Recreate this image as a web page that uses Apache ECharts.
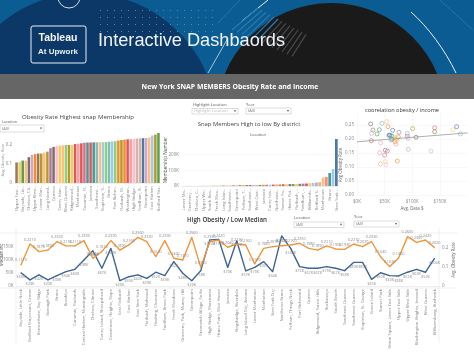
<!DOCTYPE html>
<html>
<head>
<meta charset="utf-8">
<title>Interactive Dashbaords</title>
<script src="https://cdn.jsdelivr.net/npm/echarts@6/dist/echarts.min.js"></script>
<style>
html, body { margin: 0; padding: 0; background: #fff; }
#chart { width: 474px; height: 355px; filter: blur(0.35px); }
</style>
</head>
<body>
<div id="chart"></div>
<script>
// line chart order (alphabetical)
var locations = ['Bayside, Little Neck', 'Bedford Stuyvesant, Crown', 'Bensonhurst, Bay Ridge', 'Borough Park', 'Bronx', 'Brooklyn', 'Canarsie, Flatlands', 'Central Harlem, Morningside', 'Chelsea, Clinton', 'Coney Island, Sheepshead', 'Downtown, Heights, Slope', 'East Flatbush', 'East Harlem', 'East New York', 'Flatbush, Midwood', 'Flushing, Clearview', 'Fordham, Bronx Park', 'Fresh Meadows', 'Gramercy Park, Murray Hill', 'Greenpoint', 'Greenwich Village, SoHo', 'High Bridge, Morrisania', 'Hunts Point, Mott Haven', 'Jamaica', 'Kingsbridge, Riverdale', 'Long Island City, Astoria', 'Lower Manhattan', 'Manhattan', 'New York City', 'Northeast Bronx', 'Pelham, Throgs Neck', 'Port Richmond', 'Queens', 'Ridgewood, Forest Hills', 'Rockaways', 'South Beach', 'Southeast Queens', 'Southwest Queens', 'Stapleton, St. George', 'Staten Island', 'Sunset Park', 'Union Square, Lower East Side', 'Upper East Side', 'Upper West Side', 'Washington Heights, Inwood', 'West Queens', 'Williamsburg, Bushwick'];
var medianIncome = [50, 23, 42, 23, 39, 54, 63, 98, 133, 67, 142, 20, 35, 42, 29, 52, 39, 92, 48, 20, 58, 174, 176, 70, 171, 57, 70, 92, 54, 189, 142, 73, 67, 67, 73, 67, 58, 89, 89, 25, 50, 39, 38, 52, 63, 52, 104];
var obesityRate = [.111, .221, .181, .189, .233, .211, .211, .239, .146, .181, .239, .189, .216, .256, .233, .154, .239, .146, .137, .256, .098, .233, .242, .204, .221, .216, .116, .198, .207, .212, .216, .225, .198, .189, .211, .195, .193, .221, .207, .233, .154, .102, .146, .26, .23, .242, .202];

// left bars
var obesityLabels = ['Upper East Side', 'Greenwich Village, SoHo', 'Bayside, Little Neck', 'Flushing, Clearview', 'Chelsea, Clinton', 'Union Square, Lower East Side', 'Upper West Side', 'Fresh Meadows', 'Lower Manhattan', 'Gramercy Park, Murray Hill', 'Long Island City, Astoria', 'Sunset Park', 'Queens', 'Bensonhurst, Bay Ridge', 'Coney Island, Sheepshead', 'Borough Park', 'West Queens', 'Downtown, Heights, Slope', 'Ridgewood, Forest Hills', 'Kingsbridge, Riverdale', 'Manhattan', 'Brooklyn', 'Canarsie, Flatlands', 'New York City', 'Jamaica', 'Rockaways', 'Southeast Queens', 'Southwest Queens', 'Stapleton, St. George', 'Staten Island', 'Bronx', 'Pelham, Throgs Neck', 'Port Richmond', 'South Beach', 'Flatbush, Midwood', 'Northeast Bronx', 'Washington Heights, Inwood', 'Central Harlem, Morningside', 'High Bridge, Morrisania', 'Williamsburg, Bushwick', 'Fordham, Bronx Park', 'Hunts Point, Mott Haven', 'Greenpoint', 'East Flatbush', 'East Harlem', 'East New York', 'Bedford Stuyvesant, Crown'];
var obesityValues = [.108, .11, .118, .118, .136, .148, .152, .155, .155, .16, .165, .183, .19, .195, .197, .198, .2, .2, .2, .205, .207, .209, .212, .213, .213, .214, .214, .214, .215, .216, .217, .219, .22, .224, .226, .228, .23, .231, .232, .234, .235, .236, .237, .24, .25, .255, .263];
var obesityColors = ['#9d7660', '#f1ce63', '#59a14f', '#ffbe7d', '#79706e', '#d4a6c8', '#f28e2b', '#9d7660', '#b6992d', '#ffbe7d', '#b6992d', '#b07aa1', '#79706e', '#fabfd2', '#f1ce63', '#ffbe7d', '#8cd17d', '#b6992d', '#f1ce63', '#e15759', '#ff9d9a', '#e15759', '#d37295', '#499894', '#e15759', '#499894', '#86bcb6', '#ffbe7d', '#a0cbe8', '#8cd17d', '#86bcb6', '#a0cbe8', '#8cd17d', '#f28e2b', '#b6992d', '#f28e2b', '#e15759', '#ff9d9a', '#fabfd2', '#d7b5a6', '#d7b5a6', '#4e79a7', '#d4a6c8', '#ffbe7d', '#a0cbe8', '#b6992d', '#59a14f'];

// middle bars
var memberLabels = ['Lower Manhattan', 'Upper East Side', 'Gramercy Park, Murray Hill', 'Greenwich Village, SoHo', 'Chelsea, Clinton', 'Union Square, Lower East Side', 'Upper West Side', 'Port Richmond', 'South Beach', 'Stapleton, St. George', 'Fresh Meadows', 'Bayside, Little Neck', 'Long Island City, Astoria', 'Rockaways', 'Southwest Queens', 'Ridgewood, Forest Hills', 'Greenpoint', 'Kingsbridge, Riverdale', 'Pelham, Throgs Neck', 'Canarsie, Flatlands', 'Southeast Queens', 'Downtown, Heights, Slope', 'West Queens', 'Flushing, Clearview', 'Jamaica', 'Central Harlem, Morningside', 'Coney Island, Sheepshead', 'East Harlem', 'Northeast Bronx', 'Bensonhurst, Bay Ridge', 'Sunset Park', 'Washington Heights, Inwood', 'Hunts Point, Mott Haven', 'East Flatbush', 'Flatbush, Midwood', 'Borough Park', 'Fordham, Bronx Park', 'East New York', 'Williamsburg, Bushwick', 'High Bridge, Morrisania', 'Bedford Stuyvesant, Crown', 'Staten Island', 'Manhattan', 'Queens', 'Bronx', 'Brooklyn', 'New York City'];
var memberValues = [.3, .4, .5, .6, .8, 1, 1.2, 1.5, 2, 2.5, 3, 3, 3.5, 4, 4, 4.5, 5, 5, 5.5, 6, 6, 6.5, 7, 7, 8, 8, 9, 9, 10, 10, 11, 11, 12, 12, 13, 14, 15, 16, 18, 20, 22, 24, 55, 58, 83, 108, 300];
var memberColors = ['#d7b5a6', '#bab0ac', '#fabfd2', '#f1ce63', '#a0cbe8', '#d4a6c8', '#8cd17d', '#ffbe7d', '#f1ce63', '#86bcb6', '#ffbe7d', '#d7b5a6', '#b6992d', '#fabfd2', '#ffbe7d', '#d37295', '#f1ce63', '#9d7660', '#8cd17d', '#e15759', '#79706e', '#d4a6c8', '#ff9d9a', '#59a14f', '#f28e2b', '#d37295', '#a0cbe8', '#e15759', '#ff9d9a', '#b6992d', '#e15759', '#ffbe7d', '#79706e', '#59a14f', '#f1ce63', '#9d7660', '#b07aa1', '#e15759', '#ffbe7d', '#a0cbe8', '#bab0ac', '#d7b5a6', '#ffbe7d', '#f4908a', '#499894', '#a0cbe8', '#4e79a7'];

// scatter, x in $K
var incomeX = [24.7, 45.2, 53.6, 28.9, 26.5, 40.4, 36.2, 56.1, 64.5, 75.9, 91, 100.7, 140.4, 140.4, 173.6, 180.2, 186.9, 59.7, 56.7, 62.7, 68.7, 60.9, 74.7, 71.7, 68.7, 70.5, 25.9, 42.8, 92.2, 106.7, 92.8, 133.8, 41, 51.2, 54.9, 50, 51.2, 42.2, 52.4, 72.9, 64.5, 58.5, 66.9, 69.9, 91, 62.7, 71.7];
var obesityY = [.254, .256, .262, .232, .22, .233, .218, .244, .231, .224, .22, .237, .24, .226, .233, .244, .218, .212, .212, .211, .205, .196, .208, .196, .19, .182, .194, .186, .202, .206, .163, .157, .151, .16, .157, .142, .119, .111, .108, .121, .2, .214, .202, .2, .21, .199, .2];
var scatterColors = ['#79706e', '#86bcb6', '#ffbe7d', '#9d7660', '#d4a6c8', '#499894', '#59a14f', '#f28e2b', '#4e79a7', '#b07aa1', '#86bcb6', '#b6992d', '#d37295', '#9d7660', '#f1ce63', '#4e79a7', '#86bcb6', '#4e79a7', '#a0cbe8', '#499894', '#f1ce63', '#a0cbe8', '#b6992d', '#ffbe7d', '#f28e2b', '#ff9d9a', '#e15759', '#d7b5a6', '#bab0ac', '#79706e', '#bab0ac', '#d7b5a6', '#d4a6c8', '#9d7660', '#b07aa1', '#d37295', '#f1ce63', '#d7b5a6', '#fabfd2', '#f28e2b', '#a0cbe8', '#4e79a7', '#f1ce63', '#f1ce63', '#d37295', '#499894', '#ffbe7d'];
var trendX = [0, 200];
var trendY = [.19, .222];

var grey = '#888';
var font = '"Open Sans", "Noto Sans", sans-serif';

function catAxis(grid, labels, skip, maxLen) {
    return {
        type: 'category', gridIndex: grid, data: labels, boundaryGap: true,
        axisTick: { show: false },
        axisLine: { lineStyle: { color: '#ddd', width: 0.5 } },
        axisLabel: {
            rotate: 90, interval: skip, fontSize: 4.2, color: '#888', margin: 3, fontFamily: font,
            width: maxLen, overflow: maxLen ? 'truncate' : 'none', ellipsis: '..'
        }
    };
}
function valAxis(grid, o) {
    var axis = {
        type: 'value', gridIndex: grid, min: o.min || 0, max: o.max, interval: o.interval,
        position: o.position || 'left',
        splitLine: { show: !!o.split, showMaxLine: false, lineStyle: { color: '#f1f1f1', width: 0.5 } },
        axisLine: { show: false }, axisTick: { show: false },
        axisLabel: { fontSize: 4.5, color: grey, margin: 3, fontFamily: font, showMaxLabel: false, formatter: o.fmt }
    };
    return axis;
}
function tagText(x, y, text, o) {
    o = o || {};
    return {
        type: 'text', x: x, y: y, rotation: o.rot || 0, silent: true,
        style: {
            text: text, fill: o.color || '#555', fontSize: o.size || 4.5, fontWeight: o.weight || 'normal',
            fontFamily: o.family || font, align: o.align || 'left', verticalAlign: 'middle'
        }
    };
}
function filterBox(x, y, w, h, text, hint) {
    return [
        { type: 'rect', shape: { x: x, y: y, width: w, height: h }, style: { fill: '#fff', stroke: '#bbb', lineWidth: 0.5 } },
        tagText(x + 2, y + h / 2, text, { size: 4, color: hint ? '#bbb' : '#777' }),
        { type: 'polygon', shape: { points: [[x + w - 4, y + h / 2 - 1], [x + w - 2, y + h / 2 - 1], [x + w - 3, y + h / 2 + 1]] }, style: { fill: '#555' } }
    ];
}

// header picture, only decoration
function bannerParts() {
    var parts = [
        { type: 'rect', shape: { x: 0, y: 0, width: 474, height: 74 }, style: { fill: '#0b5c92' } },
        { type: 'circle', shape: { cx: 85, cy: 125, r: 132 }, style: { fill: '#0c3868' } },
        { type: 'circle', shape: { cx: 331, cy: 118, r: 115 }, style: { fill: '#1b1a1a' } },
        { type: 'rect', shape: { x: 0, y: 99, width: 474, height: 256 }, style: { fill: '#fff' } },
        { type: 'arc', shape: { cx: 69, cy: -3, r: 11, startAngle: 0, endAngle: Math.PI }, style: { fill: 'none', stroke: '#cfe0ee', lineWidth: 1 } },
        { type: 'line', shape: { x1: 242, y1: 21, x2: 268, y2: 0 }, style: { stroke: '#e8f0f6', lineWidth: 1 } },
        { type: 'line', shape: { x1: 208, y1: 73, x2: 228, y2: 38 }, style: { stroke: '#cfe0ee', lineWidth: 0.8 } },
        { type: 'bezierCurve', shape: { x1: 411, y1: 12, cpx1: 428, cpy1: 27, cpx2: 445, cpy2: 50, x2: 456, y2: 73 }, style: { fill: 'none', stroke: '#e8f0f6', lineWidth: 1 } },
        { type: 'line', shape: { x1: 218, y1: 23, x2: 240, y2: 0 }, style: { stroke: '#3c86b8', lineWidth: 0.6 } },
        { type: 'line', shape: { x1: 440, y1: 0, x2: 473, y2: 30 }, style: { stroke: '#3c86b8', lineWidth: 0.6 } }
    ];
    var i, j;
    for (i = 0; i < 4; i++) {
        for (j = 0; j < 17; j++) {
            parts.push({ type: 'rect', shape: { x: 100 + j * 7, y: 10 + i * 7, width: 1, height: 1 }, style: { fill: '#5d86a8' } });
        }
    }
    for (i = 0; i < 13; i++) {
        parts.push({ type: 'line', shape: { x1: 232 + i * 5, y1: 30 + i * 2.2, x2: 258 + i * 4, y2: 8 + i * 2.2 }, style: { stroke: i < 6 ? '#2c7bac' : '#4a4a4a', lineWidth: 1.2 } });
    }
    parts.push(
        { type: 'rect', shape: { x: 31, y: 26, width: 55, height: 37, r: 2 }, style: { fill: 'none', stroke: '#e8f0f6', lineWidth: 1 } },
        tagText(58, 38, 'Tableau', { size: 10.5, weight: 'bold', color: '#f2f6f9', align: 'center', family: '"Liberation Sans", sans-serif' }),
        tagText(58, 52, 'At Upwork', { size: 8, weight: 'bold', color: '#e8f0f6', align: 'center', family: '"Liberation Sans", sans-serif' }),
        tagText(98, 41, 'Interactive Dashbaords', { size: 18.2, color: '#eef3f7', family: '"Liberation Sans", sans-serif' }),
        { type: 'rect', shape: { x: 0, y: 74, width: 474, height: 25 }, style: { fill: '#666' } },
        tagText(230, 87.5, 'New York SNAP MEMBERS Obesity Rate and Income', { size: 6.9, weight: 'bold', color: '#fff', align: 'center', family: '"Open Sans", sans-serif' })
    );
    return parts;
}

function panelParts() {
    var parts = [
        tagText(78, 117, 'Obesity Rate Highest snap Membership', { size: 6.1, align: 'center', color: '#444' }),
        tagText(249, 124, 'Snap Members High to low By district', { size: 5.9, align: 'center', color: '#444' }),
        tagText(402, 110, 'coorelation obesity / income', { size: 5.6, align: 'center', color: '#333' }),
        tagText(227, 220.5, 'High Obesity / Low Median', { size: 6.2, align: 'center', color: '#333', weight: '600' }),
        tagText(258, 134.5, 'Location', { size: 4, align: 'center' }),
        tagText(2, 122, 'Location', { size: 3.8 }),
        tagText(193, 105, 'Highlight Location', { size: 4 }),
        tagText(246, 104.5, 'Year', { size: 4 }),
        tagText(294, 218, 'Location', { size: 4 }),
        tagText(354, 217, 'Year', { size: 4 }),
        tagText(3, 160, 'Avg Obesity Rate', { size: 4.2, rot: Math.PI / 2, align: 'center', color: '#999' }),
        tagText(166, 160, 'Membership Number', { size: 4.6, rot: Math.PI / 2, align: 'center', color: '#444' }),
        tagText(341, 165, 'Avg Obesity Rate', { size: 4.4, rot: Math.PI / 2, align: 'center', color: '#666' }),
        tagText(412, 209, 'Avg. Data $', { size: 4.4, align: 'center', color: '#666' }),
        tagText(2, 255, 'Median Inc', { size: 4.4, rot: Math.PI / 2, align: 'center', color: '#444' }),
        tagText(454, 260, 'Avg. Obesity Rate', { size: 4.4, rot: Math.PI / 2, align: 'center', color: '#666' }),
        { type: 'line', shape: { x1: 0, y1: 233, x2: 457, y2: 233 }, style: { stroke: '#ddd', lineWidth: 0.5 } },
        { type: 'line', shape: { x1: 0, y1: 288, x2: 457, y2: 288 }, style: { stroke: '#ddd', lineWidth: 0.5 } },
        { type: 'line', shape: { x1: 16, y1: 228, x2: 16, y2: 343 }, style: { stroke: '#ddd', lineWidth: 0.5 } },
        { type: 'line', shape: { x1: 439, y1: 228, x2: 439, y2: 343 }, style: { stroke: '#ddd', lineWidth: 0.5 } }
    ];
    return parts.concat(
        filterBox(0, 125, 44, 7, '(All)'),
        filterBox(192, 108.5, 46, 5.5, 'Highlight Location', true),
        filterBox(246, 108, 45, 6, '(All)'),
        filterBox(294, 222, 50, 5.5, '(All)'),
        filterBox(354, 221, 45, 6, '(All)')
    );
}

var scatterData = incomeX.map(function(x, i) {
    return { value: [x, obesityY[i]], itemStyle: { borderColor: scatterColors[i] } };
});

var option = {
    animation: false,
    backgroundColor: '#fff',
    graphic: { elements: bannerParts().concat(panelParts()) },
    grid: [
        { left: 15, width: 145, top: 126, height: 57 },
        { left: 182, width: 156, top: 139, height: 47 },
        { left: 357, width: 110.6, top: 111, height: 84 },
        { left: 16, width: 423, top: 233, height: 53 }
    ],
    xAxis: [
        catAxis(0, obesityLabels, 1, 27),
        catAxis(1, memberLabels, 1, 24),
        {
            type: 'value', gridIndex: 2, min: 0, max: 200, interval: 50,
            splitLine: { showMaxLine: false, lineStyle: { color: '#f1f1f1', width: 0.5 } },
            axisLine: { show: false }, axisTick: { show: false },
            axisLabel: {
                fontSize: 4.5, color: grey, margin: 4, fontFamily: font, showMaxLabel: false,
                formatter: function(v) { return '$' + v + 'K'; }
            }
        },
        catAxis(3, locations, 0)
    ],
    yAxis: [
        valAxis(0, { max: .3, interval: .1 }),
        valAxis(1, { max: 300, interval: 100, split: true, fmt: function(v) { return v + 'K'; } }),
        valAxis(2, { max: .3, interval: .05, split: true, fmt: function(v) { return v.toFixed(2); } }),
        valAxis(3, { max: 200, interval: 50, fmt: function(v) { return v + 'K'; } }),
        valAxis(3, { max: .279, interval: .1, position: 'right' })
    ],
    series: [
        {
            type: 'bar', xAxisIndex: 0, yAxisIndex: 0, data: obesityValues, barWidth: '82%',
            itemStyle: { color: function(p) { return obesityColors[p.dataIndex]; } }
        },
        {
            type: 'bar', xAxisIndex: 1, yAxisIndex: 1, data: memberValues, barWidth: '82%',
            itemStyle: { color: function(p) { return memberColors[p.dataIndex]; } }
        },
        {
            type: 'line', xAxisIndex: 2, yAxisIndex: 2, symbol: 'none',
            data: [[trendX[0], trendY[0]], [trendX[1], trendY[1]]],
            lineStyle: { color: '#999', width: 0.8 }
        },
        {
            type: 'scatter', xAxisIndex: 2, yAxisIndex: 2, data: scatterData, symbolSize: 4,
            itemStyle: { color: 'rgba(255,255,255,0)', borderWidth: 0.8 }
        },
        {
            type: 'line', xAxisIndex: 3, yAxisIndex: 3, data: medianIncome, symbol: 'circle', symbolSize: 1,
            itemStyle: { color: '#3d6494' },
            lineStyle: { color: '#3d6494', width: 1.4 },
            label: {
                show: true, position: 'bottom', distance: 2, fontSize: 3.8, color: '#888', fontFamily: font,
                formatter: function(p) { return '$' + p.value + 'K'; }
            }
        },
        {
            type: 'line', xAxisIndex: 3, yAxisIndex: 4, data: obesityRate, symbol: 'circle', symbolSize: 1,
            itemStyle: { color: '#f0963a' },
            lineStyle: { color: '#f0963a', width: 1.4 },
            label: {
                show: true, position: 'top', distance: 2, fontSize: 3.8, color: '#888', fontFamily: font,
                formatter: function(p) { return p.value.toFixed(4); }
            }
        }
    ]
};

var chart = echarts.init(document.getElementById('chart'), null, { renderer: 'canvas' });
chart.setOption(option);
</script>
</body>
</html>
